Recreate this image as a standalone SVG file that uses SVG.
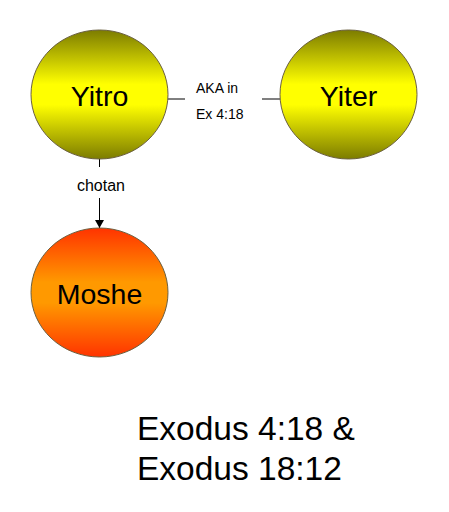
<svg xmlns="http://www.w3.org/2000/svg" width="449" height="512" viewBox="0 0 449 512">
<defs>
<linearGradient id="gy" x1="0" y1="0" x2="0" y2="1">
<stop offset="0" stop-color="#7c7c00"/>
<stop offset="0.42" stop-color="#ffff00"/>
<stop offset="0.58" stop-color="#ffff00"/>
<stop offset="1" stop-color="#7c7c00"/>
</linearGradient>
<linearGradient id="go" x1="0" y1="0" x2="0" y2="1">
<stop offset="0" stop-color="#ff3300"/>
<stop offset="0.42" stop-color="#ff9900"/>
<stop offset="0.58" stop-color="#ff9900"/>
<stop offset="1" stop-color="#ff3300"/>
</linearGradient>
<marker id="arr" markerWidth="8" markerHeight="9" refX="8" refY="4.5" orient="auto" markerUnits="userSpaceOnUse">
<path d="M0,0 L8,4.5 L0,9 Z" fill="#000"/>
</marker>
<style>
.node{stroke:#6b6040;stroke-width:1}
.nl{font-family:"Liberation Sans",Arial,sans-serif;font-size:28.5px;fill:#000;text-anchor:middle}
.el{font-family:"Liberation Sans",Arial,sans-serif;fill:#000}
.edge{stroke:#000;stroke-width:1;fill:none}
.title{font-family:"Liberation Sans",Arial,sans-serif;font-size:33.5px;fill:#000}
</style>
</defs>
<rect width="449" height="512" fill="#ffffff"/>
<g id="connectors">
<line class="edge" x1="168" y1="99" x2="185" y2="99"/>
<line class="edge" x1="262" y1="99" x2="280" y2="99"/>
<text class="el" x="196" y="93" font-size="14">AKA in</text>
<text class="el" x="196" y="119" font-size="14">Ex 4:18</text>
<line class="edge" x1="99.5" y1="159" x2="99.5" y2="167"/>
<text class="el" x="101" y="190.5" font-size="16" text-anchor="middle">chotan</text>
<line class="edge" x1="99.5" y1="198" x2="99.5" y2="228" marker-end="url(#arr)"/>
</g>
<g id="yitro">
<ellipse class="node" cx="99.5" cy="94.5" rx="68.5" ry="64.5" fill="url(#gy)"/>
<text class="nl" x="99.5" y="106">Yitro</text>
</g>
<g id="yiter">
<ellipse class="node" cx="348.5" cy="94.5" rx="68.5" ry="64.5" fill="url(#gy)"/>
<text class="nl" x="348.5" y="106">Yiter</text>
</g>
<g id="moshe">
<ellipse class="node" cx="99.5" cy="292.5" rx="68.5" ry="64.5" fill="url(#go)"/>
<text class="nl" x="99.5" y="304">Moshe</text>
</g>
<g id="caption">
<text class="title" x="137" y="439.5">Exodus 4:18 &amp;</text>
<text class="title" x="137" y="480">Exodus 18:12</text>
</g>
</svg>
